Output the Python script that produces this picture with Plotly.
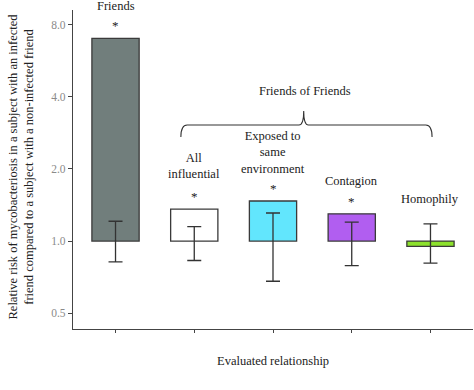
import math
import plotly.graph_objects as go

categories = ["Friends", "All influential", "Exposed to same environment", "Contagion", "Homophily"]
risk = [7.0, 1.36, 1.47, 1.30, 0.95]
ci_low = [0.82, 0.83, 0.68, 0.79, 0.81]
ci_high = [1.21, 1.15, 1.31, 1.20, 1.18]
significant = [True, True, True, True, False]
bar_colors = ["#717e7c", "#ffffff", "#62e6fd", "#b15ef0", "#8ce12c"]
label_text = ["Friends", "All<br>influential", "Exposed to<br>same<br>environment", "Contagion", "Homophily"]
ytick_vals = [0.5, 1.0, 2.0, 4.0, 8.0]
ytick_text = ["0.5", "1.0", "2.0", "4.0", "8.0"]
baseline = 1.0

FONT = "Liberation Serif, Times New Roman, DejaVu Serif, serif"
W, H = 474, 390
L, R, T, B = 73, 1, 10, 61
plot_h = H - T - B

def py(p):
    return (H - B - p) / plot_h

fig = go.Figure()
fig.add_trace(go.Bar(
    x=categories,
    y=[v - baseline for v in risk],
    base=baseline,
    marker=dict(color=bar_colors, line=dict(color="#3a3a3a", width=1.3)),
    width=0.6,
    showlegend=False,
    hoverinfo="skip",
))
fig.add_trace(go.Scatter(
    x=categories,
    y=ci_low,
    mode="markers",
    marker=dict(size=1, opacity=0),
    error_y=dict(type="data", symmetric=False,
                 array=[h - l for h, l in zip(ci_high, ci_low)],
                 arrayminus=[0] * len(ci_low),
                 color="#333333", thickness=1.3, width=7),
    showlegend=False,
    hoverinfo="skip",
))

fig.add_shape(type="line", xref="paper", x0=0, x1=1, yref="y", y0=0, y1=0,
              line=dict(color="#333333", width=1.3))

annotations = []
for c, v, s in zip(categories, risk, significant):
    if s:
        annotations.append(dict(x=c, y=math.log10(max(v, baseline)), xref="x", yref="y",
                                text="*", showarrow=False, yanchor="bottom", yshift=3,
                                font=dict(family=FONT, size=13, color="#222")))
label_pos = [8, 176, 171, 183, 201]
for c, t, p in zip(categories, label_text, label_pos):
    annotations.append(dict(x=c, y=py(p + 7), xref="x", yref="paper", text=t,
                            showarrow=False, yanchor="bottom",
                            font=dict(family=FONT, size=12.5, color="#222")))
annotations.append(dict(x=2.4, y=py(91), xref="x", yref="paper", text="Friends of Friends",
                        showarrow=False, yanchor="middle",
                        font=dict(family=FONT, size=12.5, color="#222")))
annotations.append(dict(x=0.5, y=py(361), xref="paper", yref="paper",
                        text="Evaluated relationship", showarrow=False, yanchor="middle",
                        font=dict(family=FONT, size=12.5, color="#222")))
annotations.append(dict(x=-(L - 20.5) / (W - L - R), y=py(167), xref="paper", yref="paper",
                        text="Relative risk of mycobacteriosis in a subject with an infected<br>friend compared to a subject with a non-infected friend",
                        showarrow=False, textangle=-90, xanchor="center", yanchor="middle",
                        font=dict(family=FONT, size=12.5, color="#222")))

x0, x1, xm = 0.83, 4.02, 2.39
yb, yl, yt = py(137), py(125), py(111)
fig.add_shape(type="path", xref="x", yref="paper",
              path=f"M {x0},{yb} Q {x0},{yl} {x0+0.08},{yl} L {xm-0.06},{yl} Q {xm},{yl} {xm},{yt} "
                   f"Q {xm},{yl} {xm+0.06},{yl} L {x1-0.08},{yl} Q {x1},{yl} {x1},{yb}",
              line=dict(color="#333333", width=1.1))

fig.update_layout(
    width=W, height=H,
    margin=dict(l=L, r=R, t=T, b=B),
    paper_bgcolor="white", plot_bgcolor="white",
    bargap=0.4,
    annotations=annotations,
    xaxis=dict(range=[-0.54, 4.54], showticklabels=False, ticks="outside", ticklen=3,
               tickcolor="#444", showline=True, linecolor="#444", linewidth=1.2,
               showgrid=False, zeroline=False),
    yaxis=dict(type="log", range=[math.log10(0.43), math.log10(9.2)],
               tickvals=ytick_vals, ticktext=ytick_text, ticks="outside", ticklen=4,
               tickcolor="#444", showline=True, linecolor="#444", linewidth=1.2,
               showgrid=False, zeroline=False,
               tickfont=dict(family=FONT, size=11.5, color="#8a8a8a")),
)

fig.write_html("out.html", config={"displayModeBar": False},
               post_script="document.body.style.margin='0';document.body.style.overflow='hidden';")
